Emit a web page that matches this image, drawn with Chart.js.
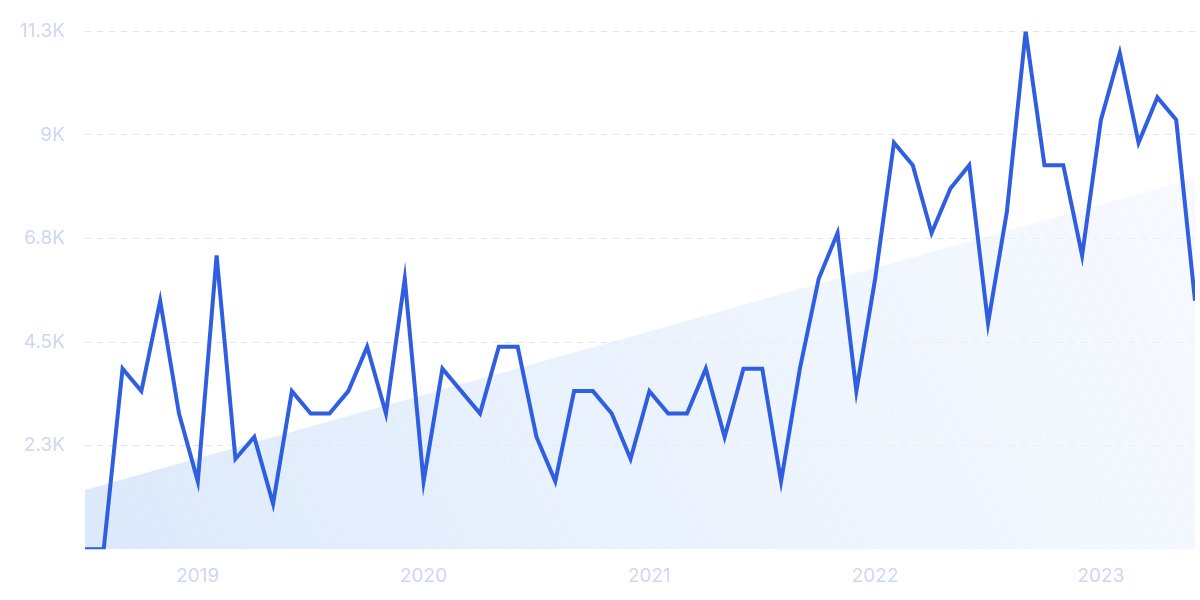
<!DOCTYPE html>
<html><head><meta charset="utf-8">
<script src="https://cdn.jsdelivr.net/npm/chart.js@4"></script>
<style>html,body{margin:0;background:#fff}#w{width:1200px;height:600px}</style>
</head><body><div id="w"><canvas id="c"></canvas></div>
<script>
const values = [0,0,3.94,3.45,5.42,2.96,1.48,6.41,1.97,2.45,0.99,3.45,2.96,2.96,3.45,4.42,2.96,5.9,1.48,3.94,3.45,2.96,4.42,4.42,2.45,1.48,3.45,3.45,2.96,1.97,3.45,2.96,2.96,3.94,2.45,3.94,3.94,1.48,3.94,5.9,6.9,3.45,5.9,8.87,8.38,6.9,7.87,8.38,4.93,7.36,11.3,8.38,8.38,6.41,9.37,10.83,8.87,9.86,9.37,5.42];
const trendStart = 1.29, trendEnd = 8.1;
const yearLabels = ['2019','2020','2021','2022','2023'];
const yearIdx = [6,18,30,42,54];
const yTicks = [2.26,4.52,6.78,9.04,11.3];
const yLabels = ['2.3K','4.5K','6.8K','9K','11.3K'];
const pts = values.map((v,i)=>({x:i,y:v}));
const n = values.length-1;
const ctx = document.getElementById('c');
new Chart(ctx,{
  type:'line',
  data:{datasets:[
    {data:pts,borderColor:'#2f5fe0',borderWidth:4,pointRadius:0,tension:0,fill:false,order:0},
    {data:[{x:0,y:trendStart},{x:n,y:trendEnd}],borderWidth:0,pointRadius:0,fill:'origin',order:1,
     backgroundColor:(c)=>{const a=c.chart.chartArea;if(!a)return 'rgba(220,233,251,0.7)';
       const g=c.chart.ctx.createLinearGradient(a.left,a.bottom,a.right,a.top);
       g.addColorStop(0,'rgba(214,229,250,0.85)');g.addColorStop(1,'rgba(240,246,255,0.5)');return g;}}
  ]},
  options:{responsive:true,maintainAspectRatio:false,animation:false,
    layout:{padding:{left:0,right:5,top:0,bottom:4}},
    plugins:{legend:{display:false},tooltip:{enabled:false}},
    scales:{
      x:{type:'linear',min:0,max:n,grid:{display:false},border:{display:false},
        afterBuildTicks:(s)=>{s.ticks=yearIdx.map(v=>({value:v}));},
        ticks:{color:'#cdd6f2',font:{size:19,family:'Inter'},padding:8,
          callback:(v)=>{const k=yearIdx.indexOf(v);return k>=0?yearLabels[k]:'';}}},
      y:{min:0,max:11.3,border:{display:false,dash:[6,6]},
        afterBuildTicks:(s)=>{s.ticks=yTicks.map(v=>({value:v}));},
        grid:{color:'#dfe6f7',lineWidth:1,drawTicks:false},
        ticks:{color:'#cdd6f2',font:{size:19,family:'Inter'},padding:20,
          callback:(v)=>{const k=yTicks.indexOf(v);return k>=0?yLabels[k]:'';}}}
    }
  }
});
</script></body></html>
